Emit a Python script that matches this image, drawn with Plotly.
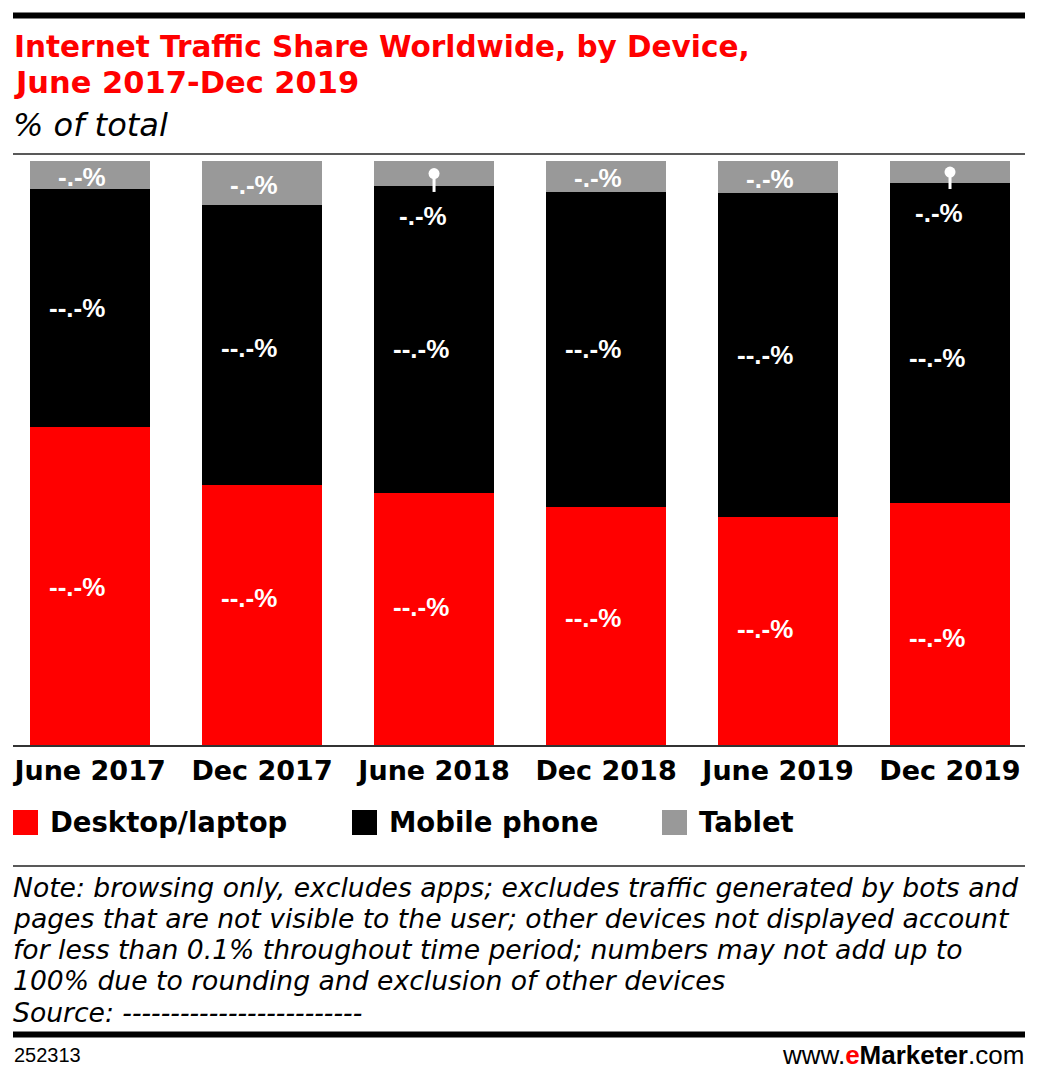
import plotly.graph_objects as go

categories = ["June 2017", "Dec 2017", "June 2018", "Dec 2018", "June 2019", "Dec 2019"]
desktop = [54.5, 44.6, 43.1, 40.8, 39.1, 41.5]
mobile = [40.7, 47.9, 52.6, 53.9, 55.4, 54.7]
tablet = [4.8, 7.5, 4.3, 5.3, 5.5, 3.8]
desktop_labels = ["--.-%"] * 6
mobile_labels = ["--.-%"] * 6
tablet_labels = ["-.-%"] * 6
callout = [False, False, True, False, False, True]

RED = "#ff0000"
GRAY = "#999999"
W, H = 1038, 1083
L, R, T, B = 13, 1025, 161, 745
PH = B - T

def px(x):
    return (x - L) / (R - L)

def py(y):
    return (B - y) / PH

fig = go.Figure()
for name, vals, col in [("Desktop/laptop", desktop, RED), ("Mobile phone", mobile, "#000000"), ("Tablet", tablet, GRAY)]:
    fig.add_trace(go.Bar(x=categories, y=vals, name=name, marker=dict(color=col, line=dict(width=0)),
                         width=0.698, showlegend=False, hoverinfo="skip"))

LBL = dict(family="Liberation Sans, Arial, sans-serif", size=26, color="white")
desk_shift = [-1, 17, 12, 8, 2, -14]
mob_shift = [0, -3, -9, 0, 0, -15]
ann = []
for i, c in enumerate(categories):
    ann.append(dict(x=c, y=desktop[i] / 2, xref="x", yref="y", text="<b>%s</b>" % desktop_labels[i],
                    showarrow=False, font=LBL, xshift=-13, yshift=desk_shift[i]))
    ann.append(dict(x=c, y=desktop[i] + mobile[i] / 2, xref="x", yref="y", text="<b>%s</b>" % mobile_labels[i],
                    showarrow=False, font=LBL, xshift=-13, yshift=mob_shift[i]))
    base = desktop[i] + mobile[i]
    if callout[i]:
        ann.append(dict(x=c, y=base, xref="x", yref="y", text="<b>%s</b>" % tablet_labels[i],
                        showarrow=False, font=LBL, xshift=-11, yanchor="top", yshift=-13))
        fig.add_trace(go.Scatter(x=[c, c], y=[base + tablet[i] * 0.5, base - 1.0], mode="lines",
                                 line=dict(color="white", width=3), showlegend=False, hoverinfo="skip"))
        fig.add_trace(go.Scatter(x=[c], y=[base + tablet[i] * 0.5], mode="markers",
                                 marker=dict(color="white", size=11), showlegend=False, hoverinfo="skip"))
    else:
        ann.append(dict(x=c, y=base + tablet[i] / 2, xref="x", yref="y", text="<b>%s</b>" % tablet_labels[i],
                        showarrow=False, font=LBL, xshift=-8, yshift=-2))

TF = "DejaVu Sans, Liberation Sans, sans-serif"
# title
ann.append(dict(x=px(12), y=py(47), xref="paper", yref="paper", xanchor="left", yanchor="middle",
                text="<b>Internet Traffic Share Worldwide, by Device,</b>", showarrow=False,
                font=dict(family=TF, size=29.5, color=RED)))
ann.append(dict(x=px(12), y=py(82), xref="paper", yref="paper", xanchor="left", yanchor="middle",
                text="<b>June 2017-Dec 2019</b>", showarrow=False,
                font=dict(family=TF, size=30.5, color=RED)))
ann.append(dict(x=px(11), y=py(125), xref="paper", yref="paper", xanchor="left", yanchor="middle",
                text="<i>% of total</i>", showarrow=False,
                font=dict(family="DejaVu Sans, sans-serif", size=32, color="black")))
# legend
legend_items = [("Desktop/laptop", RED, 13), ("Mobile phone", "#000000", 352), ("Tablet", GRAY, 662)]
shapes = []
for name, col, x0 in legend_items:
    shapes.append(dict(type="rect", xref="paper", yref="paper", x0=px(x0), x1=px(x0 + 25),
                       y0=py(835), y1=py(810), fillcolor=col, line=dict(width=0)))
    ann.append(dict(x=px(x0 + 35), y=py(822), xref="paper", yref="paper", xanchor="left", yanchor="middle",
                    text="<b>%s</b>" % name, showarrow=False, font=dict(family=TF, size=27.5, color="black")))
# note
note_lines = [
    "Note: browsing only, excludes apps; excludes traffic generated by bots and",
    "pages that are not visible to the user; other devices not displayed account",
    "for less than 0.1% throughout time period; numbers may not add up to",
    "100% due to rounding and exclusion of other devices",
    "Source: -------------------------",
]
NF = dict(family="DejaVu Sans, sans-serif", size=26.6, color="black")
for k, line in enumerate(note_lines):
    ann.append(dict(x=px(11), y=py(887 + k * 31.3), xref="paper", yref="paper", xanchor="left", yanchor="middle",
                    text="<i>%s</i>" % line, showarrow=False, font=NF))
ann.append(dict(x=px(12), y=py(1055), xref="paper", yref="paper", xanchor="left", yanchor="middle",
                text="252313", showarrow=False,
                font=dict(family="Liberation Sans, sans-serif", size=20, color="black")))
ann.append(dict(x=px(1026), y=py(1055), xref="paper", yref="paper", xanchor="right", yanchor="middle",
                text="www.<span style='color:#ff0000'><b>e</b></span><b>Marketer</b>.com", showarrow=False,
                font=dict(family="Liberation Sans, sans-serif", size=26, color="black")))

# rules
shapes.append(dict(type="line", xref="paper", yref="paper", x0=px(13), x1=px(1025), y0=py(15.5), y1=py(15.5),
                   line=dict(color="black", width=6)))
shapes.append(dict(type="line", xref="paper", yref="paper", x0=px(13), x1=px(1025), y0=py(154), y1=py(154),
                   line=dict(color="#222", width=1.5)))
shapes.append(dict(type="line", xref="paper", yref="paper", x0=px(13), x1=px(1025), y0=py(866), y1=py(866),
                   line=dict(color="#222", width=1.5)))
shapes.append(dict(type="line", xref="paper", yref="paper", x0=px(13), x1=px(1025), y0=py(1034.5), y1=py(1034.5),
                   line=dict(color="black", width=6)))

fig.update_layout(
    width=W, height=H, barmode="stack", bargap=0,
    margin=dict(l=L, r=W - R, t=T, b=H - B, pad=0),
    plot_bgcolor="white", paper_bgcolor="white",
    xaxis=dict(type="category", range=[-0.448, 5.436], showline=True, linecolor="#333", linewidth=1.5,
               ticks="", showgrid=False, zeroline=False, ticklabelstandoff=1, fixedrange=True,
               tickfont=dict(family=TF, size=27, color="black", weight="bold")),
    yaxis=dict(range=[0, 100], visible=False, showgrid=False, zeroline=False, fixedrange=True),
    annotations=ann, shapes=shapes, showlegend=False,
)
fig.write_html("out.html", config={"displayModeBar": False, "staticPlot": True},
               post_script="document.body.style.margin='0';")
